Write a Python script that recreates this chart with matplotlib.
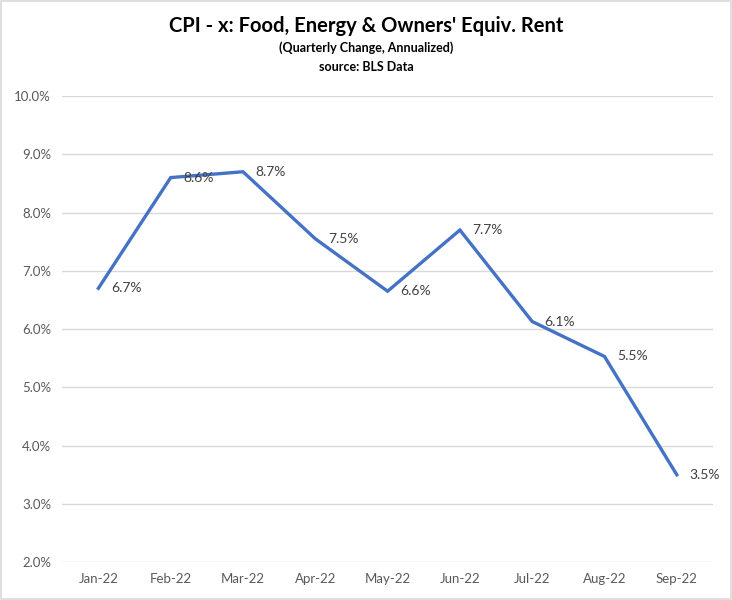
import matplotlib.pyplot as plt
from matplotlib.ticker import FuncFormatter

plt.rcParams['font.family'] = ['Lato', 'DejaVu Sans']

months = ['Jan-22', 'Feb-22', 'Mar-22', 'Apr-22', 'May-22', 'Jun-22', 'Jul-22', 'Aug-22', 'Sep-22']
cpi_change = [6.7, 8.6, 8.7, 7.55, 6.65, 7.7, 6.13, 5.53, 3.5]
point_labels = ['6.7%', '8.6%', '8.7%', '7.5%', '6.6%', '7.7%', '6.1%', '5.5%', '3.5%']

fig = plt.figure(figsize=(7.32, 6.0), dpi=100)
ax = fig.add_axes([0.085, 0.063, 0.889, 0.777])

x = list(range(len(months)))
ax.plot(x, cpi_change, color='#4472C4', linewidth=2.4, solid_joinstyle='miter')

for xi, yi, lab in zip(x, cpi_change, point_labels):
    ax.annotate(lab, (xi, yi), xytext=(9, 0), textcoords='offset points',
                ha='left', va='center', fontsize=10, color='#404040')

ax.set_xlim(-0.5, len(months) - 0.5)
ax.set_ylim(2.0, 10.0)
ax.set_yticks([2, 3, 4, 5, 6, 7, 8, 9, 10])
ax.yaxis.set_major_formatter(FuncFormatter(lambda v, p: f'{v:.1f}%'))
ax.set_xticks(x)
ax.set_xticklabels(months)
ax.grid(axis='y', color='#D9D9D9', linewidth=1)
ax.set_axisbelow(True)
for s in ax.spines.values():
    s.set_visible(False)
ax.tick_params(length=0, labelsize=9.5, colors='#595959', pad=8)

fig.text(0.5, 0.957, "CPI - x: Food, Energy & Owners' Equiv. Rent",
         ha='center', va='center', fontsize=14.5, fontweight='bold', color='black')
fig.text(0.5, 0.92, '(Quarterly Change, Annualized)',
         ha='center', va='center', fontsize=9, fontweight='bold', color='black')
fig.text(0.5, 0.888, 'source: BLS Data',
         ha='center', va='center', fontsize=9, fontweight='bold', color='black')

# light frame around the whole chart
fig.patches.append(plt.Rectangle((0.002, 0.002), 0.996, 0.996, transform=fig.transFigure,
                                 fill=False, edgecolor='#D9D9D9', linewidth=1.2))

plt.savefig('out.png', dpi=100)
